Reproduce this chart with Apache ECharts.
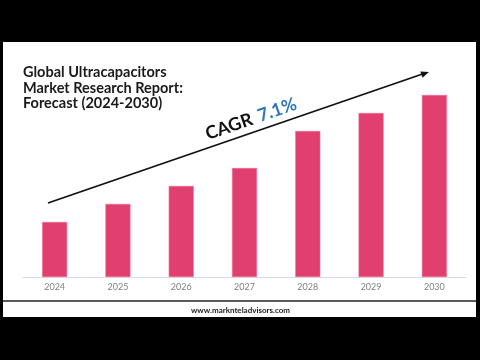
<!DOCTYPE html>
<html><head><meta charset="utf-8">
<style>html,body{margin:0;padding:0;background:#000;}#c{width:480px;height:360px;}</style>
<script src="https://cdn.jsdelivr.net/npm/echarts@6/dist/echarts.min.js"></script>
</head><body><div id="c"></div>
<script>
const years = ['2024','2025','2026','2027','2028','2029','2030'];
const marketValues = [55, 73, 91, 109, 146, 164, 182];
const titleLines = ['Global Ultracapacitors', 'Market Research Report:', 'Forecast (2024-2030)'];
const cagrLabel = 'CAGR';
const cagrValue = '7.1%';
const footerText = 'www.marknteladvisors.com';

const chart = echarts.init(document.getElementById('c'), null, {renderer: 'canvas'});
const ang = Math.atan2(203 - 72, 428 - 48);
chart.setOption({
  backgroundColor: '#000',
  animation: false,
  grid: {left: 23, right: 14, top: 77, bottom: 83},
  xAxis: {
    type: 'category', data: years,
    axisLine: {lineStyle: {color: '#d9d9d9', width: 1}},
    axisTick: {show: false},
    axisLabel: {color: '#808080', fontSize: 9, margin: 6, fontFamily: 'Lato'}
  },
  yAxis: {type: 'value', min: 0, max: 200, show: false, splitLine: {show: false}},
  series: [{
    type: 'bar', data: marketValues, barWidth: 25,
    itemStyle: {color: '#E03F6F', borderColor: '#F06A92', borderWidth: 0.6},
    z: 5
  }],
  graphic: [
    {type: 'rect', z: -10, silent: true, shape: {x: 3, y: 42, width: 473, height: 275}, style: {fill: '#fff'}},
    {type: 'rect', z: -9, silent: true, shape: {x: 3, y: 300, width: 473, height: 2}, style: {fill: '#5a5a5a'}},
    {type: 'text', left: 23, top: 65, z: 10, style: {
      text: titleLines.join('\n'), fill: '#1a1a1a', font: 'bold 14.5px Lato', lineHeight: 15.5
    }},
    {type: 'text', x: 240.5, y: 310, z: 10, style: {
      text: footerText, fill: '#222', font: 'bold 8px Lato', align: 'center', verticalAlign: 'middle'
    }},
    {type: 'line', z: 10, shape: {x1: 48, y1: 203, x2: 424, y2: 73.5}, style: {stroke: '#111', lineWidth: 1.8}},
    {type: 'polygon', z: 10, x: 429, y: 72, rotation: ang, shape: {points: [[0,0],[-8,-3.2],[-8,3.2]]}, style: {fill: '#111'}},
    {type: 'text', x: 251, y: 119, rotation: ang, z: 10, style: {
      text: '{a|' + cagrLabel + '}  {b|' + cagrValue + '}', align: 'center', verticalAlign: 'middle',
      rich: {
        a: {font: 'bold 18px Lato', fill: '#111'},
        b: {font: 'bold 18px Lato', fill: '#2E75B6'}
      }
    }}
  ]
});
</script></body></html>
